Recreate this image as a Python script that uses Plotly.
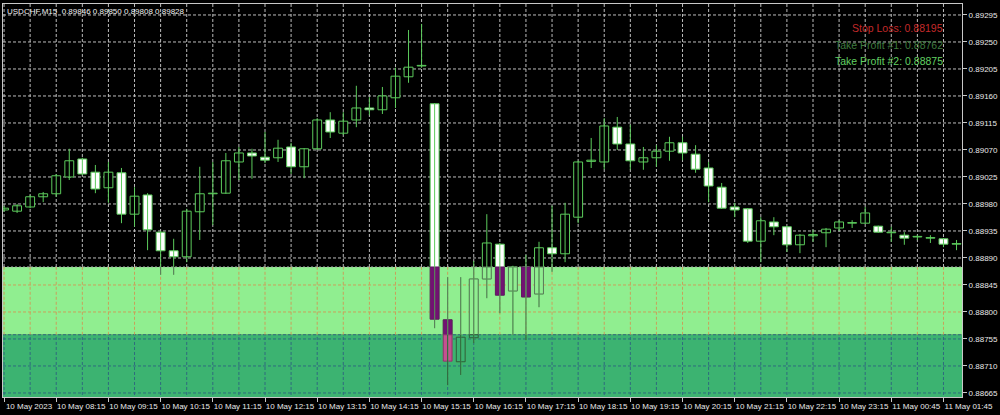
import plotly.graph_objects as go

# ---------------- data ----------------
opens = [0.88970, 0.88968, 0.88975, 0.88992, 0.88997, 0.89025, 0.89055, 0.89033, 0.89007, 0.89032,
         0.88963, 0.88995, 0.88933, 0.88902, 0.88892, 0.88967, 0.88997, 0.88998, 0.89050, 0.89065,
         0.89058, 0.89057, 0.89075, 0.89042, 0.89072, 0.89120, 0.89098, 0.89120, 0.89140, 0.89137,
         0.89157, 0.89192, 0.89210, 0.89147, 0.88787, 0.88717, 0.88757, 0.88855, 0.88913, 0.88835,
         0.88875, 0.88830, 0.88907, 0.88897, 0.88958, 0.89051, 0.89050, 0.89108, 0.89080, 0.89050,
         0.89057, 0.89068, 0.89082, 0.89063, 0.89040, 0.89008, 0.88975, 0.88972, 0.88918, 0.88950,
         0.88942, 0.88912, 0.88927, 0.88932, 0.88940, 0.88948, 0.88948, 0.88943, 0.88932, 0.88928,
         0.88925, 0.88923, 0.88922, 0.88913]
highs = [0.88977, 0.88980, 0.88995, 0.89000, 0.89030, 0.89072, 0.89057, 0.89045, 0.89050, 0.89040,
         0.89008, 0.88998, 0.88935, 0.88922, 0.88972, 0.89042, 0.89050, 0.89065, 0.89075, 0.89072,
         0.89100, 0.89087, 0.89082, 0.89073, 0.89123, 0.89133, 0.89133, 0.89177, 0.89158, 0.89175,
         0.89207, 0.89270, 0.89280, 0.89148, 0.88858, 0.88858, 0.88885, 0.88963, 0.88915, 0.88877,
         0.88895, 0.88917, 0.88977, 0.88982, 0.89052, 0.89090, 0.89123, 0.89125, 0.89112, 0.89075,
         0.89078, 0.89092, 0.89092, 0.89078, 0.89050, 0.89015, 0.88982, 0.88973, 0.88958, 0.88958,
         0.88943, 0.88930, 0.88937, 0.88940, 0.88953, 0.88953, 0.88975, 0.88944, 0.88942, 0.88933,
         0.88928, 0.88928, 0.88923, 0.88920]
lows = [0.88967, 0.88965, 0.88973, 0.88983, 0.88992, 0.89020, 0.89028, 0.88998, 0.88982, 0.88948,
        0.88942, 0.88903, 0.88862, 0.88862, 0.88883, 0.88920, 0.88945, 0.88997, 0.89020, 0.89022,
        0.89048, 0.89050, 0.89030, 0.89023, 0.89070, 0.89090, 0.89095, 0.89108, 0.89128, 0.89130,
        0.89140, 0.89182, 0.89207, 0.88773, 0.88678, 0.88695, 0.88748, 0.88823, 0.88798, 0.88762,
        0.88753, 0.88808, 0.88867, 0.88883, 0.88948, 0.89040, 0.89038, 0.89070, 0.89037, 0.89037,
        0.89042, 0.89052, 0.89053, 0.89032, 0.88983, 0.88972, 0.88958, 0.88915, 0.88883, 0.88928,
        0.88900, 0.88898, 0.88917, 0.88908, 0.88935, 0.88940, 0.88947, 0.88932, 0.88917, 0.88912,
        0.88920, 0.88915, 0.88908, 0.88903]
closes = [0.88973, 0.88977, 0.88992, 0.88997, 0.89027, 0.89052, 0.89030, 0.89005, 0.89033, 0.88963,
          0.88993, 0.88937, 0.88902, 0.88892, 0.88968, 0.88997, 0.88998, 0.89052, 0.89065, 0.89060,
          0.89053, 0.89073, 0.89042, 0.89072, 0.89120, 0.89100, 0.89118, 0.89140, 0.89137, 0.89160,
          0.89193, 0.89208, 0.89211, 0.88788, 0.88718, 0.88758, 0.88855, 0.88915, 0.88828, 0.88875,
          0.88825, 0.88907, 0.88897, 0.88963, 0.89050, 0.89053, 0.89110, 0.89080, 0.89052, 0.89057,
          0.89068, 0.89082, 0.89065, 0.89038, 0.89010, 0.88973, 0.88970, 0.88918, 0.88952, 0.88942,
          0.88912, 0.88928, 0.88929, 0.88938, 0.88950, 0.88949, 0.88965, 0.88933, 0.88933, 0.88923,
          0.88926, 0.88924, 0.88913, 0.88914]

tick_idx = [0, 4, 8, 12, 16, 20, 24, 28, 32, 36, 40, 44, 48, 52, 56, 60, 64, 68, 72]
tick_text = ["10 May 2023", "10 May 08:15", "10 May 09:15", "10 May 10:15", "10 May 11:15",
             "10 May 12:15", "10 May 13:15", "10 May 14:15", "10 May 15:15", "10 May 16:15",
             "10 May 17:15", "10 May 18:15", "10 May 19:15", "10 May 20:15", "10 May 21:15",
             "10 May 22:15", "10 May 23:15", "11 May 00:45", "11 May 01:45"]
grid_idx = list(range(0, 73, 2))

price_ticks = [0.88665, 0.88710, 0.88755, 0.88800, 0.88845, 0.88890, 0.88935, 0.88980,
               0.89025, 0.89070, 0.89115, 0.89160, 0.89205, 0.89250, 0.89295]
price_tick_text = ["0.88665", "0.88710", "0.88755", "0.88800", "0.88845", "0.88890", "0.88935",
                   "0.88980", "0.89025", "0.89070", "0.89115", "0.89160", "0.89205", "0.89250",
                   "0.89295"]

stop_loss = 0.88195
take_profit_1 = 0.88762
take_profit_2 = 0.88875

title_text = "USDCHF,M15  0.89846 0.89850 0.89808 0.89828"
level_labels = ["Stop Loss: 0.88195", "Take Profit #1: 0.88762", "Take Profit #2: 0.88875"]

# ---------------- styling ----------------
X_RANGE = [-0.08, 73.42]
Y_RANGE = [0.886583, 0.893133]
GREEN = "#5CCB5C"
GRID = "#BDBDBD"
AXIS = "#C8C8C8"
TXT = "#E8E8E8"
FONT = "Liberation Sans"
BODY_W = 0.68

zones = [
    dict(lo=take_profit_1, hi=take_profit_2, fill="#90EE90", grid="#C9A05A",
         wick="#5A7A5A", bull_fill="#90EE90", bull_line="#5A7A5A",
         bear_fill="#721272", bear_line="#621A62"),
    dict(lo=stop_loss, hi=take_profit_1, fill="#3CB371", grid="#2F6A7E",
         wick="#2C5C3C", bull_fill="#3CB371", bull_line="#2C5C3C",
         bear_fill="#C4508F", bear_line="#86306E"),
]

n = len(opens)
idx = list(range(n))

fig = go.Figure()

# wicks
wx, wy = [], []
for i in idx:
    wx += [i, i, None]
    wy += [lows[i], highs[i], None]
fig.add_trace(go.Scatter(x=wx, y=wy, mode="lines", line=dict(color=GREEN, width=1),
                         hoverinfo="skip", showlegend=False))
for z in zones:
    zx, zy = [], []
    for i in idx:
        a, b = max(lows[i], z["lo"]), min(highs[i], z["hi"])
        if b > a:
            zx += [i, i, None]
            zy += [a, b, None]
    fig.add_trace(go.Scatter(x=zx, y=zy, mode="lines", line=dict(color=z["wick"], width=1),
                             hoverinfo="skip", showlegend=False))

# bodies
bull = [i for i in idx if closes[i] >= opens[i]]
bear = [i for i in idx if closes[i] < opens[i]]
fig.add_trace(go.Bar(x=bull, base=[opens[i] for i in bull],
                     y=[closes[i] - opens[i] for i in bull], width=BODY_W,
                     marker=dict(color="#000000", line=dict(color=GREEN, width=1)),
                     hoverinfo="skip", showlegend=False))
fig.add_trace(go.Bar(x=bear, base=[closes[i] for i in bear],
                     y=[opens[i] - closes[i] for i in bear], width=BODY_W,
                     marker=dict(color="#FFFFFF", line=dict(color=GREEN, width=1)),
                     hoverinfo="skip", showlegend=False))
for z in zones:
    for group, fill, line in ((bull, z["bull_fill"], z["bull_line"]),
                              (bear, z["bear_fill"], z["bear_line"])):
        bx, bb, bh = [], [], []
        for i in group:
            lo_b, hi_b = min(opens[i], closes[i]), max(opens[i], closes[i])
            a, b = max(lo_b, z["lo"]), min(hi_b, z["hi"])
            if b > a:
                bx.append(i)
                bb.append(a)
                bh.append(b - a)
        if bx:
            fig.add_trace(go.Bar(x=bx, base=bb, y=bh, width=BODY_W,
                                 marker=dict(color=fill, line=dict(color=line, width=1)),
                                 hoverinfo="skip", showlegend=False))

# zones + grid as background shapes
shapes = []
for z in zones:
    shapes.append(dict(type="rect", xref="paper", yref="y", x0=0, x1=1, y0=z["lo"], y1=z["hi"],
                       fillcolor=z["fill"], line=dict(width=0), layer="below"))
bands = [(take_profit_2, Y_RANGE[1] + 0.001, GRID)] + [(z["lo"], z["hi"], z["grid"]) for z in zones]
for gx in grid_idx:
    for lo, hi, col in bands:
        shapes.append(dict(type="line", xref="x", yref="y", x0=gx, x1=gx, y0=lo, y1=hi,
                           line=dict(color=col, width=1, dash="3px,2px"), layer="below"))
for gy in price_ticks:
    col = GRID
    for lo, hi, c in bands[1:]:
        if lo <= gy < hi:
            col = c
    shapes.append(dict(type="line", xref="paper", yref="y", x0=0, x1=1, y0=gy, y1=gy,
                       line=dict(color=col, width=1, dash="3px,2px"), layer="below"))
shapes.append(dict(type="line", xref="paper", yref="y", x0=0, x1=1, y0=take_profit_2,
                   y1=take_profit_2, line=dict(color="#A8A8A8", width=1, dash="2px,2px"),
                   layer="below"))
shapes.append(dict(type="line", xref="paper", yref="y", x0=0, x1=1, y0=take_profit_1,
                   y1=take_profit_1, line=dict(color="#2F6A7E", width=1, dash="3px,2px"),
                   layer="below"))

annotations = [
    dict(text=title_text, xref="paper", yref="paper", x=0, y=1, xanchor="left", yanchor="top",
         xshift=2, yshift=-1, showarrow=False, font=dict(family=FONT, size=8, color="#F0F0F0")),
]
label_colors = ["#C42A2A", "#3E7A3E", "#62D062"]
label_y = [0.939, 0.896, 0.855]
for t, c, yy in zip(level_labels, label_colors, label_y):
    annotations.append(dict(text=t, xref="paper", yref="paper", x=1, y=yy, xanchor="right",
                            yanchor="middle", xshift=-17, showarrow=False,
                            font=dict(family=FONT, size=10.5, color=c)))

fig.update_layout(
    width=1000, height=415,
    margin=dict(l=2, r=33, t=4, b=18),
    paper_bgcolor="#000000", plot_bgcolor="#000000",
    barmode="overlay", showlegend=False,
    shapes=shapes, annotations=annotations,
    font=dict(family=FONT, size=8, color=TXT),
    xaxis=dict(range=X_RANGE, tickvals=tick_idx, ticktext=tick_text, showgrid=False,
               zeroline=False, ticks="outside", ticklen=4, tickcolor=AXIS, showline=True,
               linecolor=AXIS, linewidth=1, mirror=True, ticklabelshift=25,
               ticklabelstandoff=-3,
               tickfont=dict(family=FONT, size=8, color=TXT), fixedrange=True),
    yaxis=dict(range=Y_RANGE, side="right", tickvals=price_ticks, ticktext=price_tick_text,
               showgrid=False, zeroline=False, ticks="outside", ticklen=4, tickcolor=AXIS,
               showline=True, linecolor=AXIS, linewidth=1, mirror=True,
               tickfont=dict(family=FONT, size=8, color=TXT), fixedrange=True),
)

fig.write_html("out.html", config={"displayModeBar": False},
               post_script="document.body.style.margin='0';")
